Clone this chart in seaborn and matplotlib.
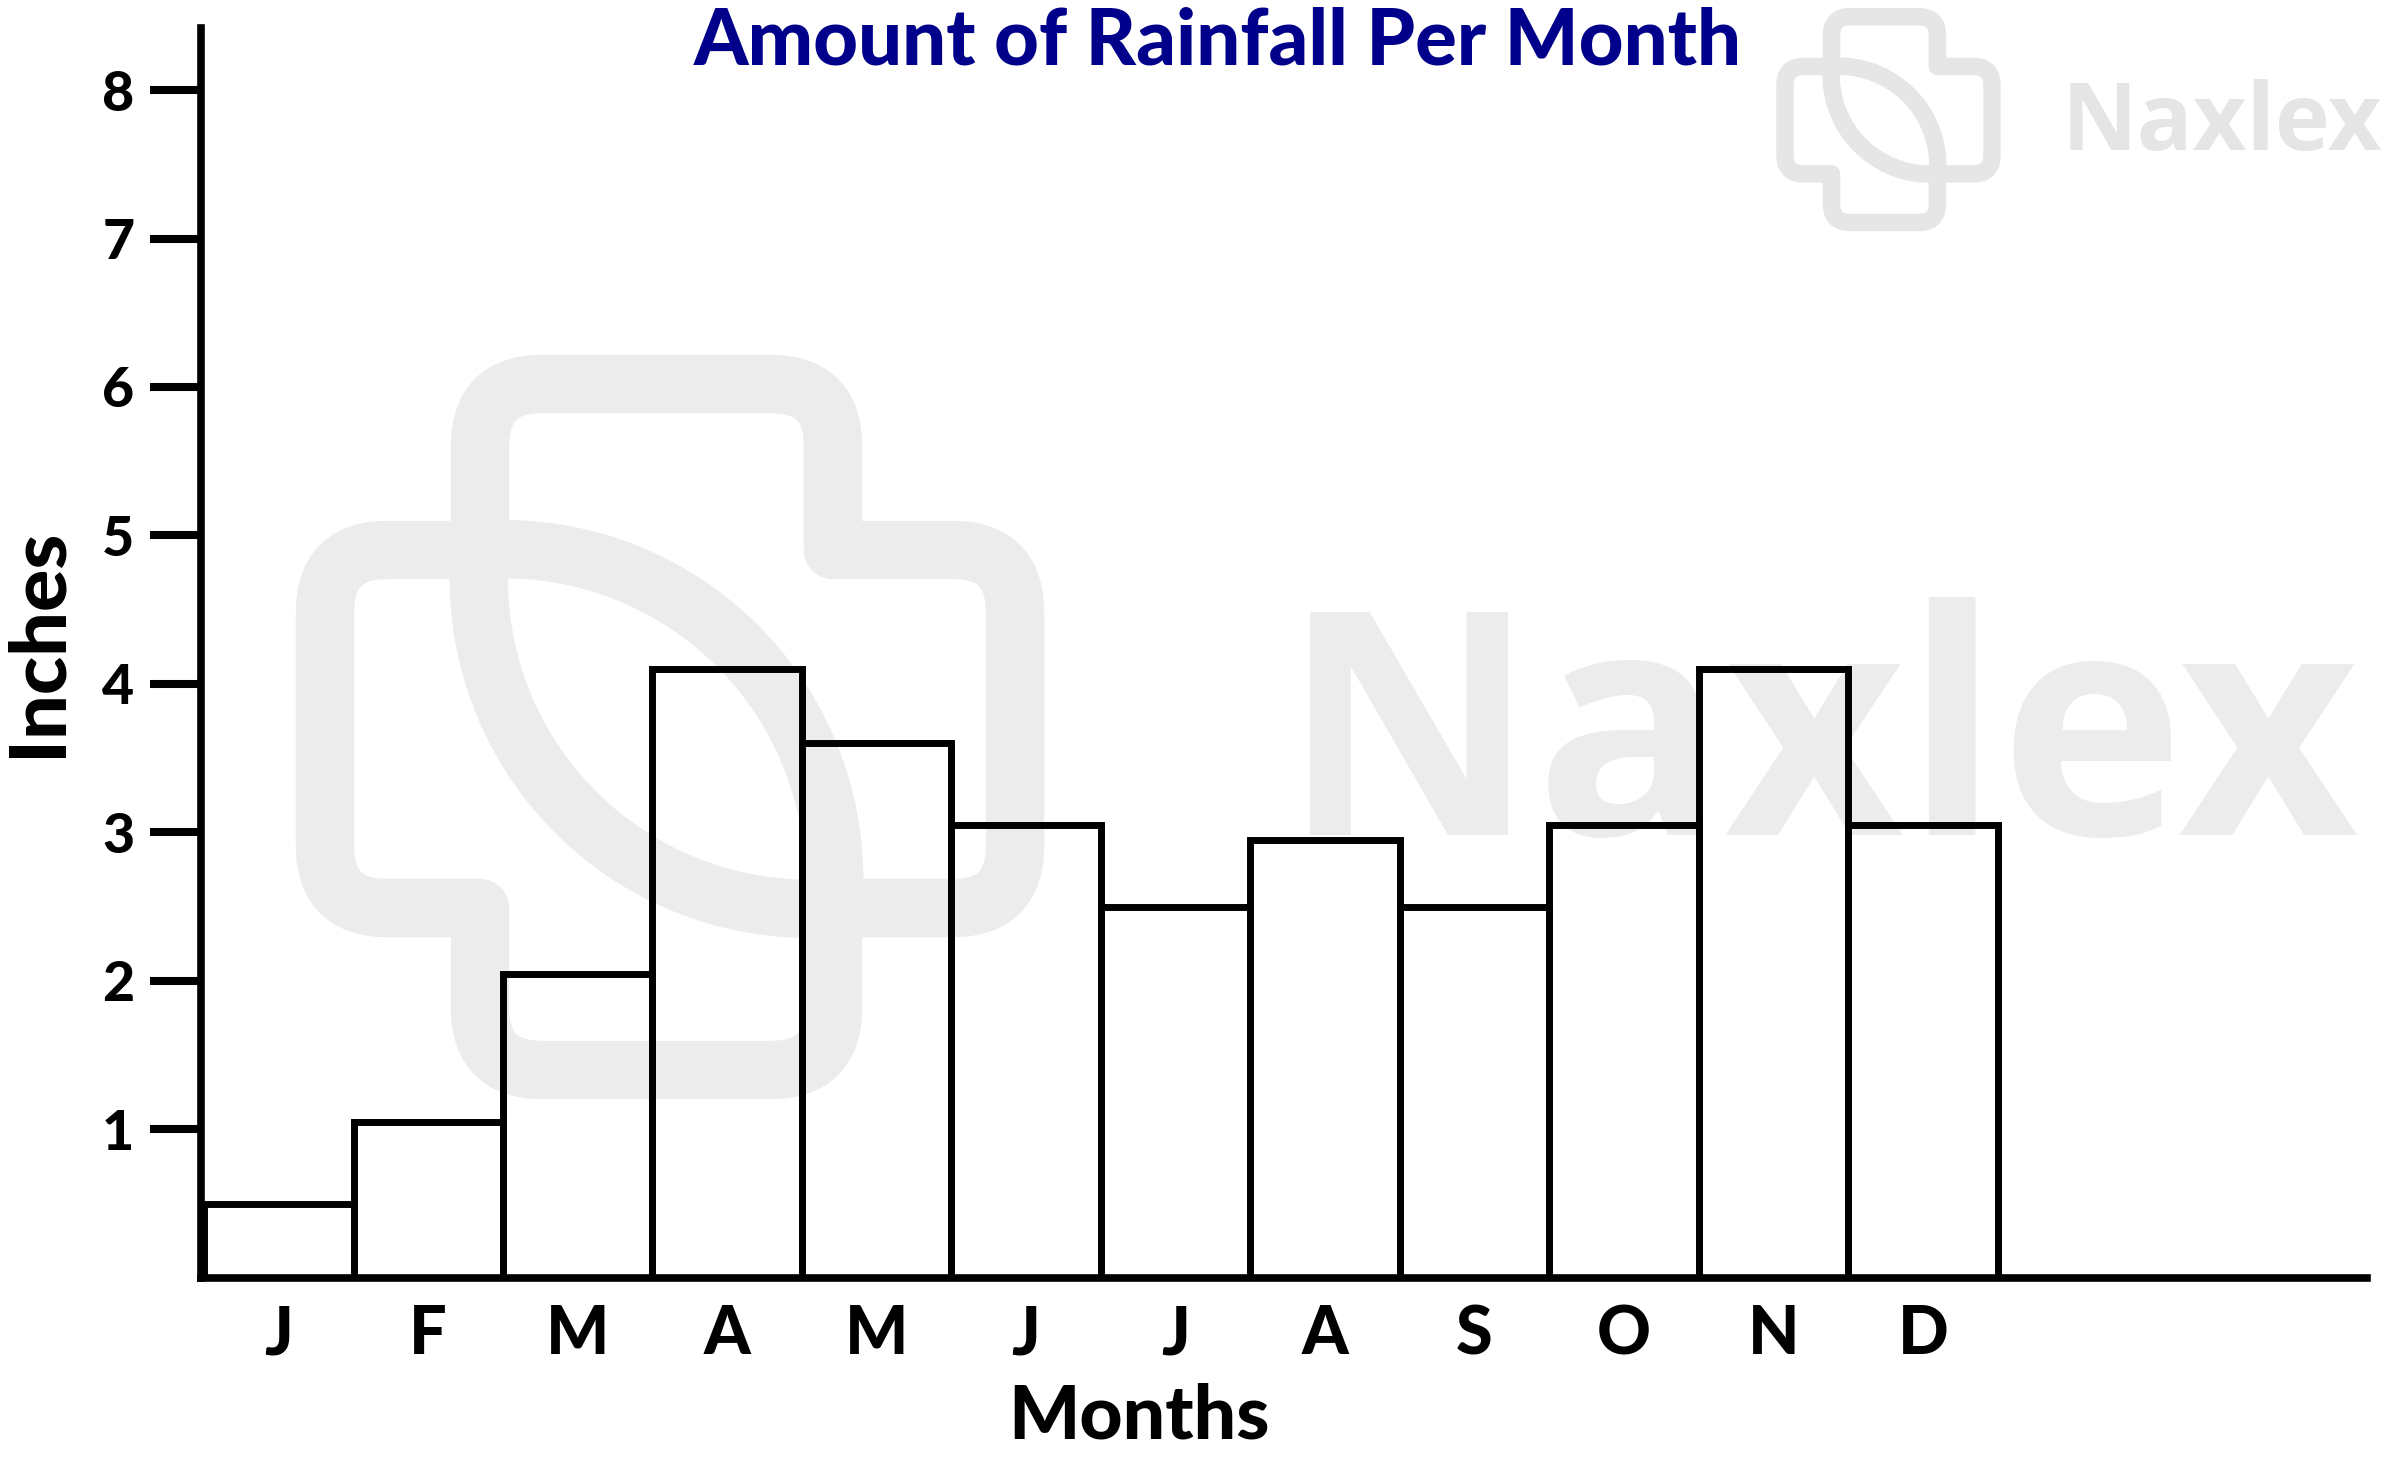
import numpy as np
import pandas as pd
import seaborn as sns
import matplotlib.pyplot as plt
from matplotlib.path import Path
from matplotlib.patches import PathPatch

months = ['Jan', 'Feb', 'Mar', 'Apr', 'May', 'Jun', 'Jul', 'Aug', 'Sep', 'Oct', 'Nov', 'Dec']
month_letters = ['J', 'F', 'M', 'A', 'M', 'J', 'J', 'A', 'S', 'O', 'N', 'D']
rainfall = [0.5, 1.05, 2.05, 4.1, 3.6, 3.05, 2.5, 2.95, 2.5, 3.05, 4.1, 3.05]
y_ticks = [1, 2, 3, 4, 5, 6, 7, 8]

df = pd.DataFrame({'month': months, 'inches': rainfall})

sns.set_theme(style='white')
plt.rcParams['font.family'] = ['Lato', 'DejaVu Sans']
plt.rcParams['font.weight'] = 'bold'

fig = plt.figure(figsize=(24.02, 14.63), dpi=100)
fig.patch.set_facecolor('white')

# watermark layer, drawn in pixel coords of the canvas (y down)
bg = fig.add_axes([0, 0, 1, 1], zorder=0)
bg.set_xlim(0, 2402)
bg.set_ylim(1463, 0)
bg.axis('off')


def rounded_path(pts, rounded, r):
    verts, codes = [], []
    n = len(pts)
    for i in range(n):
        v = np.array(pts[i], float)
        if rounded[i]:
            a = np.array(pts[i - 1], float)
            b = np.array(pts[(i + 1) % n], float)
            p1 = v + r * (a - v) / np.linalg.norm(a - v)
            p2 = v + r * (b - v) / np.linalg.norm(b - v)
            verts += [tuple(p1), tuple(v), tuple(p2)]
            codes += [Path.LINETO, Path.CURVE3, Path.CURVE3]
        else:
            verts.append(tuple(v))
            codes.append(Path.LINETO)
    codes[0] = Path.MOVETO
    verts.append(verts[0])
    codes.append(Path.CLOSEPOLY)
    return Path(verts, codes)


def arc_pts(c, p, q, n=60):
    a1 = np.arctan2(p[1] - c[1], p[0] - c[0])
    a2 = np.arctan2(q[1] - c[1], q[0] - c[0])
    d = (a2 - a1 + np.pi) % (2 * np.pi) - np.pi
    t = a1 + np.linspace(0, d, n)
    r = np.hypot(p[0] - c[0], p[1] - c[1])
    return c[0] + r * np.cos(t), c[1] + r * np.sin(t)


def logo(ax, ox, oy, k, color):
    def tr(x, y):
        return ox + (x - 295) * k, oy + (y - 355) * k
    cross = [(480, 384), (833, 384), (833, 550), (1015, 550), (1015, 908),
             (833, 908), (833, 1070), (480, 1070), (480, 908), (325, 908),
             (325, 550), (480, 550)]
    rnd = [True, True, False, True, True, False, True, True, False, True, True, False]
    ax.add_patch(PathPatch(rounded_path([tr(*q) for q in cross], rnd, 62 * k),
                           facecolor='none', edgecolor=color, lw=42 * k,
                           joinstyle='round'))
    p1, p2 = tr(480, 550), tr(833, 908)
    for c in [tr(503.9, 879.5), tr(809.1, 578.5)]:
        xs, ys = arc_pts(c, p1, p2)
        ax.plot(xs, ys, color=color, lw=42 * k, solid_capstyle='butt')


logo(bg, 295, 355, 1.0, '#ececec')
logo(bg, 1776, 8, 0.3, '#e6e6e6')
bg.text(1282, 835, 'Naxlex', fontsize=225, fontweight='bold', color='#ececec',
        ha='left', va='baseline', family=['Open Sans', 'DejaVu Sans'])
bg.text(2062, 150, 'Naxlex', fontsize=67, fontweight='bold', color='#e5e5e5',
        ha='left', va='baseline', family=['Open Sans', 'DejaVu Sans'])

ax = fig.add_axes([0.0837, 0.1265, 0.9017, 0.8546], zorder=1)
ax.patch.set_alpha(0)

sns.barplot(data=df, x='month', y='inches', width=1.0, fill=False, color='black',
            linewidth=5, errorbar=None, ax=ax)
for bar in ax.patches:
    bar.set_edgecolor('black')
    bar.set_facecolor('none')
    bar.set_linewidth(5)

ax.set_xlim(-0.52, 13.97)
ax.set_ylim(0, 8.42)
ax.set_yticks(y_ticks)
ax.set_yticklabels([str(t) for t in y_ticks])
ax.set_xticks(range(len(months)))
ax.set_xticklabels(month_letters)

for side in ['top', 'right']:
    ax.spines[side].set_visible(False)
for side in ['left', 'bottom']:
    ax.spines[side].set_color('black')
    ax.spines[side].set_linewidth(5.5)

ax.tick_params(axis='y', length=37, width=5.8, pad=11, labelsize=40, color='black',
               left=True, direction='out')
ax.tick_params(axis='x', length=0, pad=19, labelsize=48)
for lbl in ax.get_xticklabels() + ax.get_yticklabels():
    lbl.set_fontweight('black')
    lbl.set_color('black')

ax.set_xlabel('Months', fontsize=54, fontweight='black', color='black')
ax.set_ylabel('Inches', fontsize=57, fontweight='black', color='black')
ax.xaxis.set_label_coords(0.433, -0.111)
ax.xaxis.label.set_va('center')
ax.yaxis.set_label_coords(-0.0753, 0.508)
ax.yaxis.label.set_va('center')

fig.text(0.507, 0.9556, 'Amount of Rainfall Per Month', fontsize=56,
         fontweight='black', color='#00008b', ha='center', va='baseline')

plt.savefig('out.png', dpi=100)
